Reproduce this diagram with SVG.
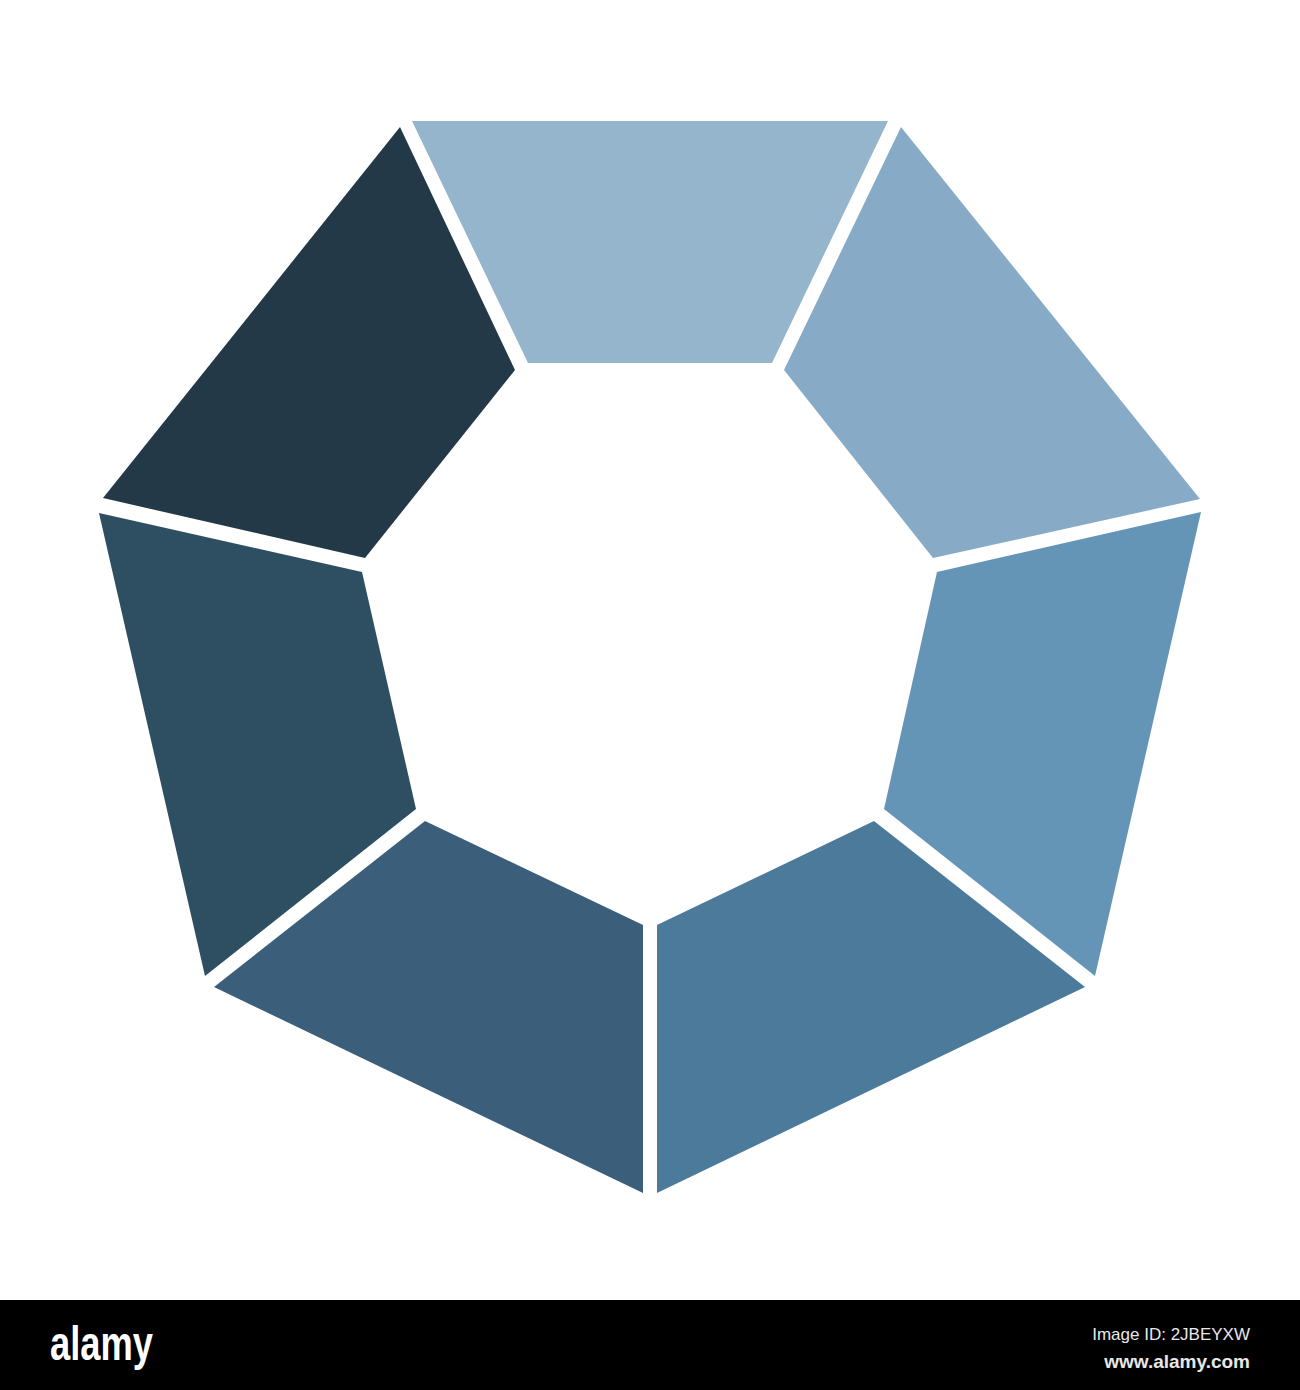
<svg xmlns="http://www.w3.org/2000/svg" width="1300" height="1390" viewBox="0 0 1300 1390">
  <style>
    .seg { stroke: none; }
    .logo { font-family: "Liberation Sans", Arial, sans-serif; font-weight: bold; fill: #ffffff; }
    .meta { font-family: "Liberation Sans", Arial, sans-serif; fill: #e8e8e8; text-anchor: end; }
  </style>
  <rect width="1300" height="1390" fill="#ffffff"/>
  <g id="ring">
    <g id="seg-top"><polygon class="seg" fill="#95b5cd" points="412,121 888,121 772,363 528,363"/></g>
    <g id="seg-top-right"><polygon class="seg" fill="#87abc6" points="901,127 1200,499 933,558 784,370"/></g>
    <g id="seg-right"><polygon class="seg" fill="#6495b7" points="1201,512 1095,976 884,809 937,572"/></g>
    <g id="seg-lower-right"><polygon class="seg" fill="#4b7a9b" points="1085,987 657,1193 657,925 874,821"/></g>
    <g id="seg-lower-left"><polygon class="seg" fill="#3b5f7b" points="643,1193 214,987 425,821 643,925"/></g>
    <g id="seg-left"><polygon class="seg" fill="#2e4e62" points="205,976 99,513 362,572 416,809"/></g>
    <g id="seg-top-left"><polygon class="seg" fill="#233947" points="103,498 400,127 515,370 365,558"/></g>
  </g>
  <g id="connectors"></g>
  <g id="footer">
    <rect x="0" y="1300" width="1300" height="90" fill="#000000"/>
    <text class="logo" x="50" y="1360" font-size="48" textLength="103" lengthAdjust="spacingAndGlyphs">alamy</text>
    <text class="meta" x="1250" y="1340" font-size="17">Image ID: 2JBEYXW</text>
    <text class="meta" x="1250" y="1368" font-size="19" font-weight="bold" fill="#ffffff">www.alamy.com</text>
  </g>
</svg>
